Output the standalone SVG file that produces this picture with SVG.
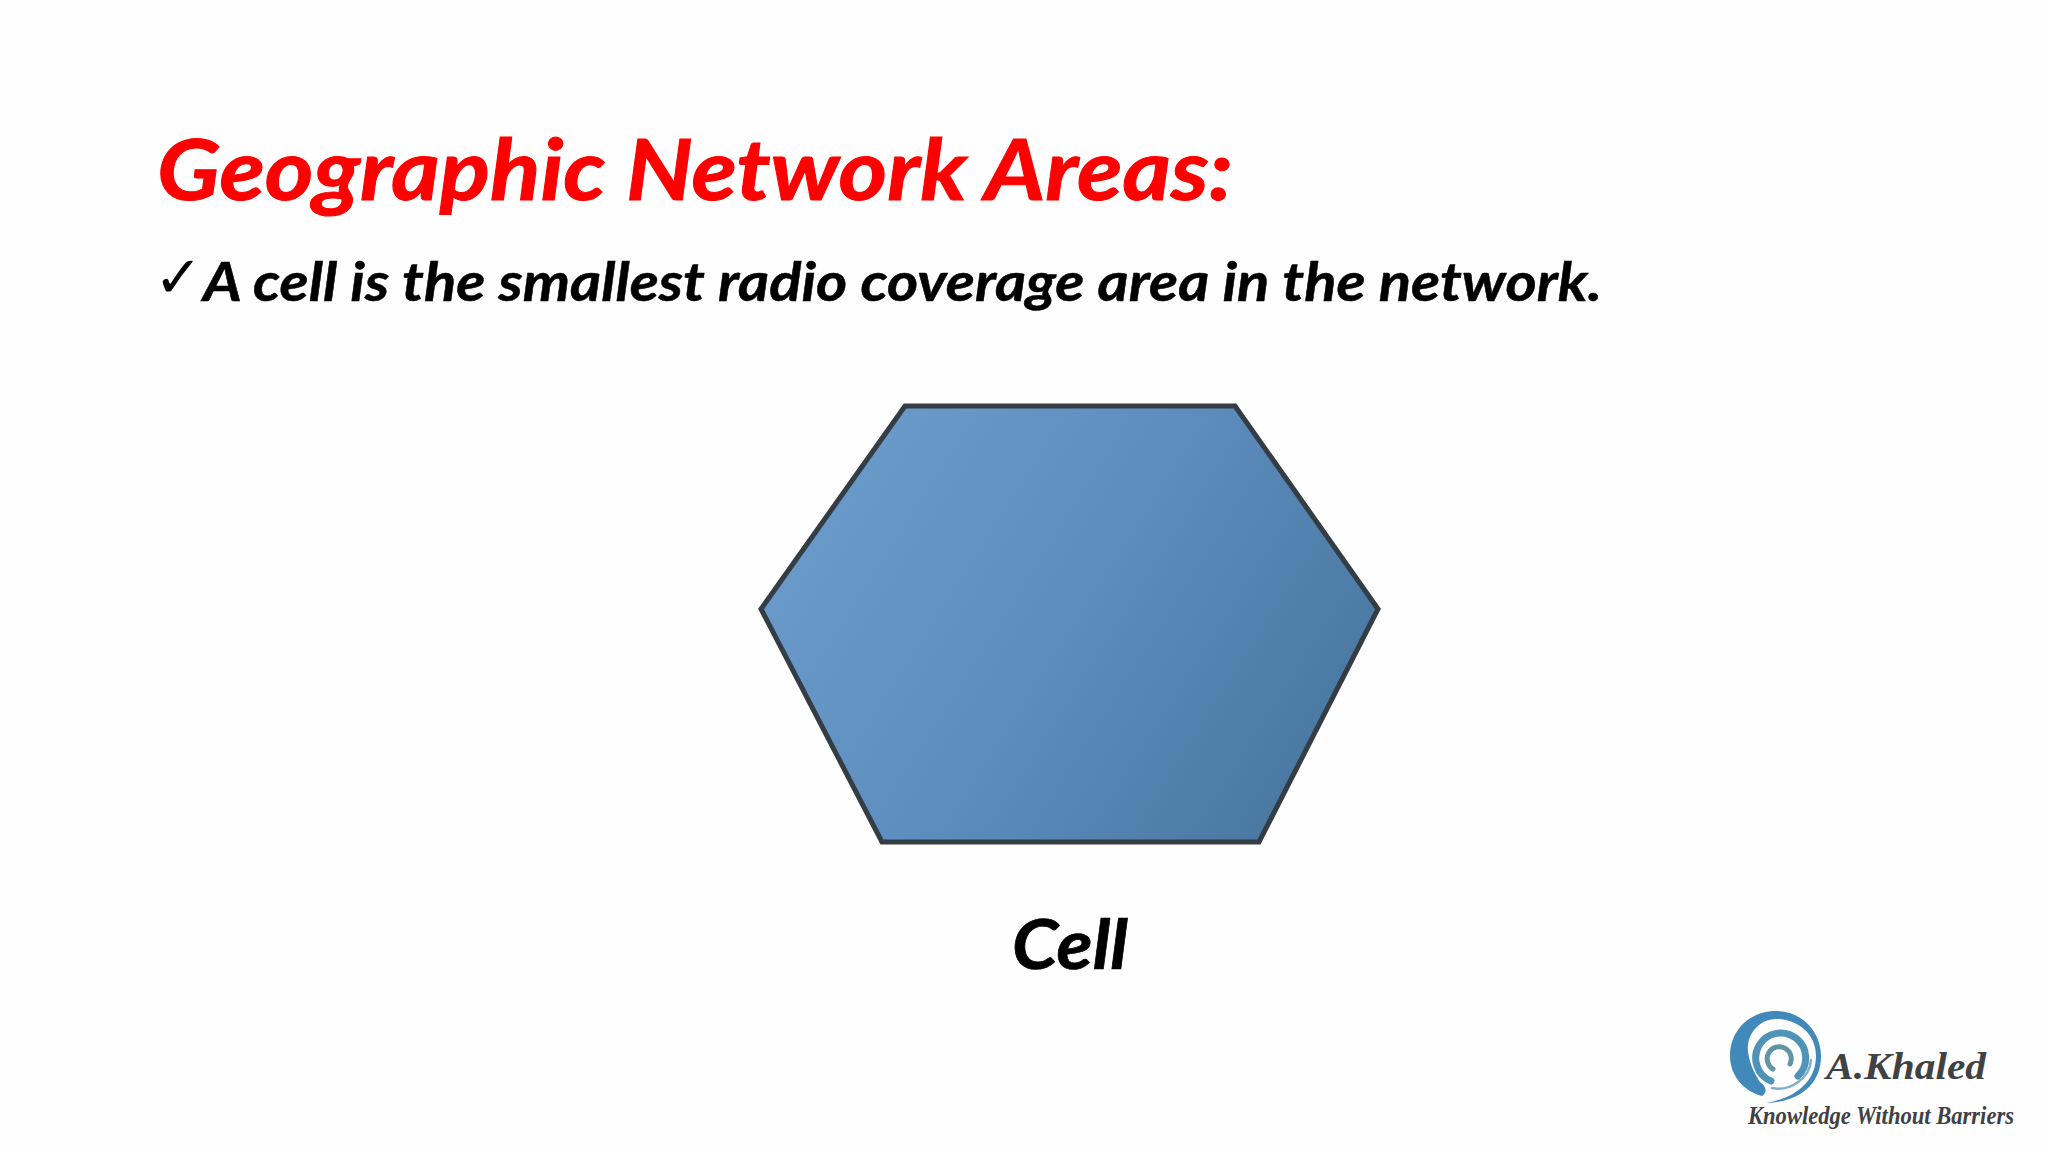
<svg xmlns="http://www.w3.org/2000/svg" width="2048" height="1152" viewBox="0 0 2048 1152">
<style>
.h{font-family:Lato,Carlito,"Liberation Sans",sans-serif;font-weight:700;font-style:italic}
.s{font-family:"Liberation Serif",serif;font-style:italic;fill:#3f4145}
.r{fill:none;stroke-linecap:round}
</style>
<defs>
<linearGradient id="g" x1="0" y1="0.3" x2="1" y2="0.75">
<stop offset="0" stop-color="#6a9bca"/><stop offset="0.45" stop-color="#5e8ebf"/><stop offset="1" stop-color="#47769f"/>
</linearGradient>
</defs>
<rect width="2048" height="1152" fill="#fefefe"/>
<text id="title" class="h" x="157" y="200" font-size="84" fill="#ff0000" stroke="#ff0000" stroke-width="1" textLength="1076" lengthAdjust="spacingAndGlyphs">Geographic Network Areas:</text>
<g id="bullet">
<text x="154" y="297" font-family="DejaVu Sans,sans-serif" font-size="58" fill="#000">✓</text>
<text class="h" x="203" y="301" font-size="54" fill="#000" stroke="#000" stroke-width="0.5" textLength="1399" lengthAdjust="spacingAndGlyphs">A cell is the smallest radio coverage area in the network.</text>
</g>
<g id="cell">
<polygon points="905,406 1235,406 1378,609 1259,842 882,842 761,609" fill="url(#g)" stroke="#343c44" stroke-width="5" stroke-linejoin="miter"/>
<text class="h" x="1070" y="969" font-size="68" fill="#000" stroke="#000" stroke-width="0.7" text-anchor="middle" textLength="116" lengthAdjust="spacingAndGlyphs">Cell</text>
</g>
<g id="logo">
<path d="M1762,1096 C1740,1090 1730,1072 1730,1056 C1730,1030 1750,1011 1776,1011 C1802,1011 1821,1032 1821,1056 C1821,1084 1800,1102 1766,1103 C1795,1098 1816,1082 1816,1056 C1816,1034 1798,1019 1776,1019 C1758,1019 1746,1036 1748,1052 C1750,1066 1756,1076 1760,1082 C1766,1086 1768,1092 1762,1096 Z" fill="#4189bb"/>
<path class="r" d="M1771,1081 A25,25 0 1 1 1798,1076" stroke="#4f93b8" stroke-width="7"/>
<path class="r" d="M1773,1069 A12,12 0 1 1 1790,1064" stroke="#5f95a5" stroke-width="5"/>
<path class="r" d="M1772,1088 C1790,1092 1810,1078 1811,1060" stroke="#7fb0cc" stroke-width="2.5"/>
<text class="s" x="1826" y="1079" font-size="38" font-weight="700" textLength="160" lengthAdjust="spacingAndGlyphs">A.Khaled</text>
<text class="s" x="1748" y="1124" font-size="25" font-weight="700" textLength="266" lengthAdjust="spacingAndGlyphs">Knowledge Without Barriers</text>
</g>
</svg>
